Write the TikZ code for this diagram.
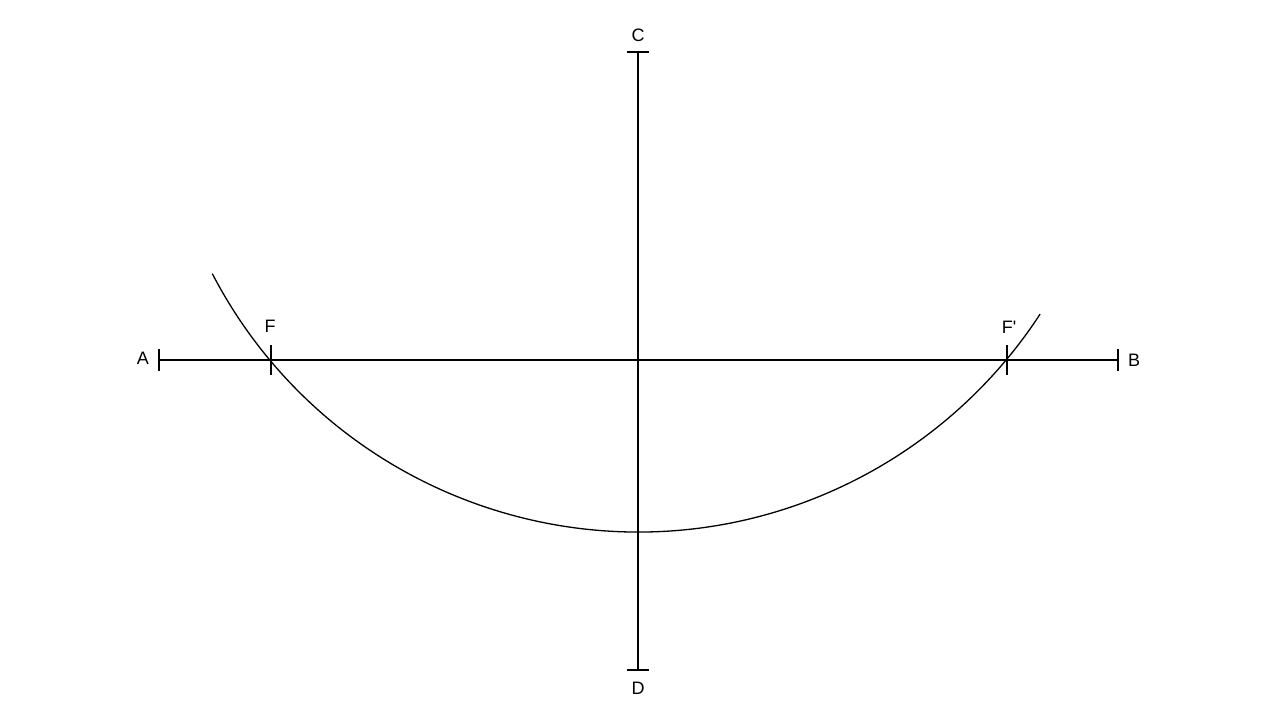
\documentclass[tikz,border=0pt]{standalone}
\usepackage{fontspec}
\setmainfont{Liberation Sans}
\begin{document}
\begin{tikzpicture}[x=1pt,y=1pt,
  thinline/.style={line width=1.3pt,black},
  endtick/.style={line width=1.6pt,black},
  focustick/.style={line width=2.2pt,black},
  lbl/.style={font=\fontsize{18}{18}\selectfont,inner sep=0pt}]
\useasboundingbox (0,0) rectangle (1280,720);
\fill[white] (0,0) rectangle (1280,720);
\coordinate (A) at (159,360);
\coordinate (B) at (1118,360);
\coordinate (C) at (638,668);
\coordinate (D) at (638,50);
\coordinate (F) at (271,360);
\coordinate (Fp) at (1007,360);
% axes
\draw[thinline] (A) -- (B);
\draw[thinline] (C) -- (D);
% end ticks
\draw[endtick] ([yshift=-11]A) -- ([yshift=11]A);
\draw[endtick] ([yshift=-11]B) -- ([yshift=11]B);
\draw[endtick] ([xshift=-11]C) -- ([xshift=11]C);
\draw[endtick] ([xshift=-11]D) -- ([xshift=11]D);
% focus ticks
\draw[focustick] ([yshift=-15]F) -- ([yshift=15]F);
\draw[focustick] ([yshift=-15]Fp) -- ([yshift=15]Fp);
% arc centred at C
\draw[thinline] (C) ++(207.5:480) arc[start angle=207.5,end angle=326.9,radius=480];
% labels
\node[lbl] (lA) at (143,362) {A};
\node[lbl] (lB) at (1134,360) {B};
\node[lbl] (lC) at (638,685) {C};
\node[lbl] (lD) at (638,32) {D};
\node[lbl] (lF) at (270,394) {F};
\node[lbl] (lFp) at (1009,393) {F\textquotesingle};
\end{tikzpicture}
\end{document}
